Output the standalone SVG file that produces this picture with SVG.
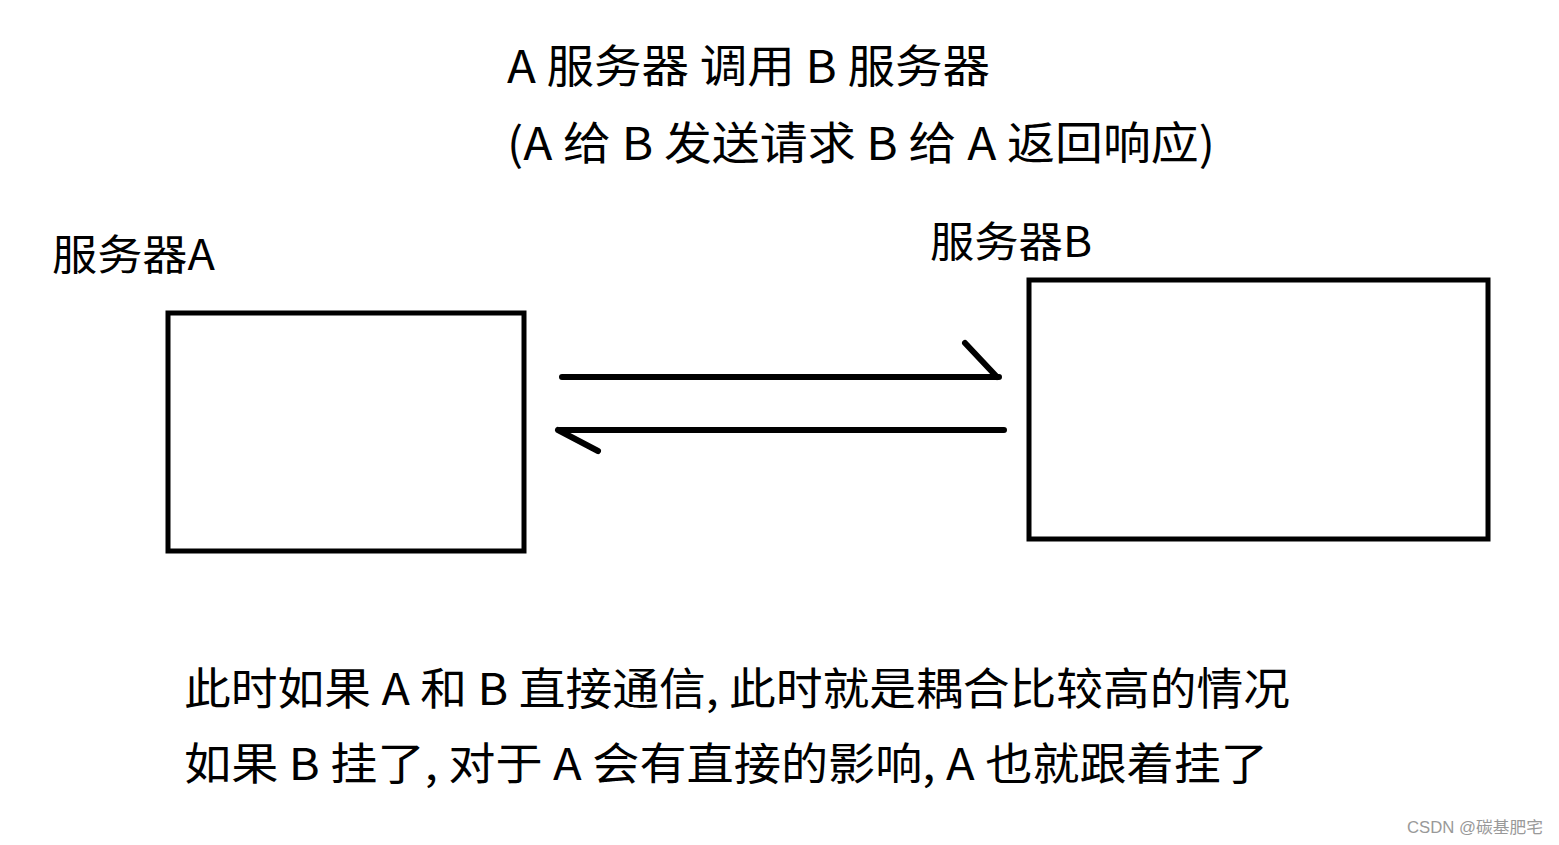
<svg xmlns="http://www.w3.org/2000/svg" width="1559" height="845" viewBox="0 0 1559 845">
<style>
.t{font-family:"Microsoft YaHei","Noto Sans CJK SC","Noto Sans",sans-serif;fill:#000;}
.box{fill:none;stroke:#000;stroke-width:5;}
.ln{fill:none;stroke:#000;stroke-width:6;stroke-linecap:round;stroke-linejoin:round;}
.wm{font-family:"Liberation Sans","Noto Sans CJK SC",sans-serif;font-size:16px;fill:#999;}
</style>
<rect width="1559" height="845" fill="#fff"/>
<g id="title">
<text class="t" x="507" y="83" font-size="45" textLength="483" lengthAdjust="spacingAndGlyphs">A 服务器 调用 B 服务器</text>
<text class="t" x="507" y="160" font-size="45" textLength="708" lengthAdjust="spacingAndGlyphs">(A 给 B 发送请求 B 给 A 返回响应)</text>
</g>
<g id="serverA">
<text class="t" x="52" y="270" font-size="42" textLength="163" lengthAdjust="spacingAndGlyphs">服务器A</text>
<rect class="box" x="168" y="313" width="356" height="238"/>
</g>
<g id="serverB">
<text class="t" x="930" y="257" font-size="42" textLength="162" lengthAdjust="spacingAndGlyphs">服务器B</text>
<rect class="box" x="1029" y="280" width="459" height="259"/>
</g>
<g id="connectors">
<path class="ln" d="M562 377 H999 M965 343 L997 377"/>
<path class="ln" d="M1004 430 H558 M558 430 L598 451"/>
</g>
<g id="notes">
<text class="t" x="184" y="705" font-size="44" textLength="1106" lengthAdjust="spacingAndGlyphs">此时如果 A 和 B 直接通信, 此时就是耦合比较高的情况</text>
<text class="t" x="184" y="780" font-size="44" textLength="1084" lengthAdjust="spacingAndGlyphs">如果 B 挂了, 对于 A 会有直接的影响, A 也就跟着挂了</text>
</g>
<text class="wm" x="1407" y="833" textLength="136" lengthAdjust="spacingAndGlyphs">CSDN @碳基肥宅</text>
</svg>
